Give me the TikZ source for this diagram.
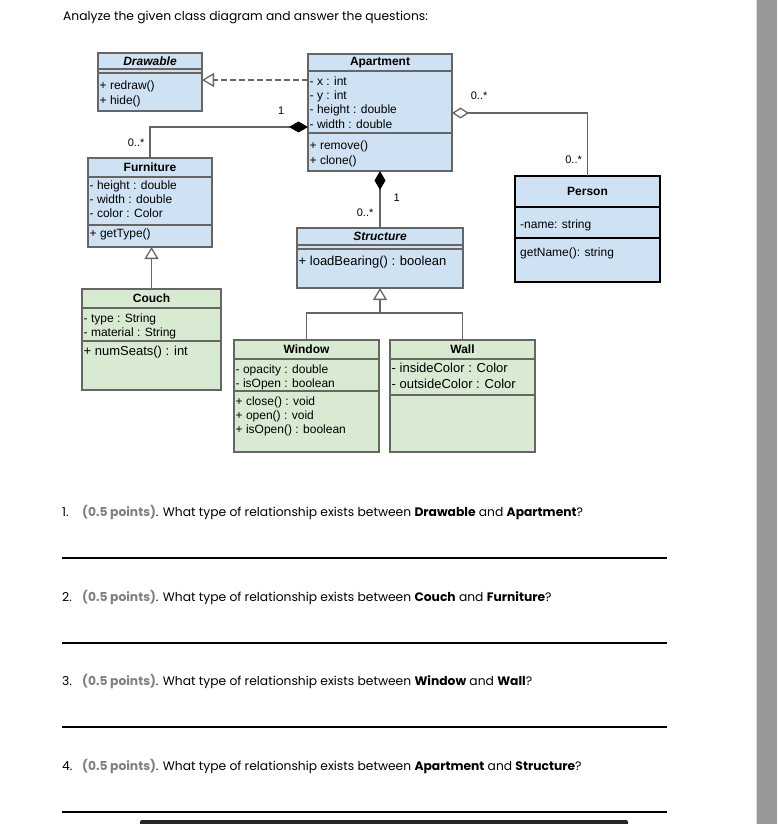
\documentclass[tikz,border=0pt]{standalone}
\usepackage{fontspec}
\setmainfont{Liberation Sans}
\newfontfamily\quizfont{Poppins}
\usetikzlibrary{arrows.meta,positioning}

\definecolor{umlblue}{HTML}{CFE2F3}
\definecolor{umlgreen}{HTML}{D9EAD3}
\definecolor{umlline}{HTML}{666666}
\definecolor{pointsgray}{HTML}{7F7F7F}
\definecolor{scrollgray}{HTML}{989898}

\tikzset{
  part/.style={draw=umlline, line width=1.3pt, fill=#1, inner sep=0pt, outer sep=0pt, anchor=north},
  head/.style={part=#1, font=\fontsize{12}{14}\selectfont\bfseries},
  members/.style={anchor=north west, align=left, inner xsep=1.5pt, inner ysep=5.5pt, font=\fontsize{12}{14.3}\selectfont},
  bigmembers/.style={members, font=\fontsize{13}{15.5}\selectfont},
  mult/.style={font=\fontsize{11}{13}\selectfont, inner sep=3pt},
  compose/.style={draw=umlline, line width=1.3pt, {Diamond[length=19pt, width=11pt, color=black]}-},
  aggregate/.style={draw=umlline, line width=1.3pt, {Diamond[length=17pt, width=11pt, fill=white]}-},
  inherit/.style={draw=umlline, line width=1.3pt, -{Triangle[length=12pt, width=14pt, fill=white]}},
  realize/.style={inherit, dash pattern=on 6pt off 3pt},
  question/.style={anchor=west, inner sep=0pt, font=\quizfont\fontsize{12.3}{14}\selectfont},
  answer/.style={line width=1.2pt}
}

\begin{document}
\begin{tikzpicture}[x=1pt, y=-1pt]
\useasboundingbox (0,0) rectangle (777,824);

\node[question] (intro) at (63,17) {Analyze the given class diagram and answer the questions:};

% Drawable
\node[head=umlblue, minimum width=104pt, minimum height=16pt] (drwT) at (150,53) {\itshape Drawable};
\node[part=umlblue, minimum width=104pt, minimum height=4pt, below=0pt of drwT] (drwA) {};
\node[part=umlblue, minimum width=104pt, minimum height=38pt, below=0pt of drwA,
  label={[members, inner ysep=8pt]north west:{+ redraw()\\+ hide()}}] (drwM) {};

% Apartment
\node[head=umlblue, minimum width=144pt, minimum height=17pt] (aptT) at (380,54) {Apartment};
\node[part=umlblue, minimum width=144pt, minimum height=62pt, below=0pt of aptT,
  label={[members]north west:{- x : int\\- y : int\\- height : double\\- width : double}}] (aptA) {};
\node[part=umlblue, minimum width=144pt, minimum height=38pt, below=0pt of aptA,
  label={[members, inner ysep=8pt]north west:{+ remove()\\+ clone()}}] (aptM) {};

% Furniture
\node[head=umlblue, minimum width=124pt, minimum height=19pt] (furT) at (150,158) {Furniture};
\node[part=umlblue, minimum width=124pt, minimum height=48pt, below=0pt of furT,
  label={[members, inner ysep=3.5pt]north west:{- height : double\\- width : double\\- color : Color}}] (furA) {};
\node[part=umlblue, minimum width=124pt, minimum height=22pt, below=0pt of furA,
  label={[members, inner ysep=3.5pt]north west:{+ getType()}}] (furM) {};

% Couch
\node[head=umlgreen, minimum width=139pt, minimum height=19pt] (couT) at (151.5,289) {Couch};
\node[part=umlgreen, minimum width=139pt, minimum height=33pt, below=0pt of couT,
  label={[members]north west:{- type : String\\- material : String}}] (couA) {};
\node[part=umlgreen, minimum width=139pt, minimum height=49pt, below=0pt of couA,
  label={[bigmembers, inner ysep=4.5pt]north west:{+ numSeats() : int}}] (couM) {};

% Structure
\node[head=umlblue, minimum width=166pt, minimum height=17pt] (strT) at (380,228) {\itshape Structure};
\node[part=umlblue, minimum width=166pt, minimum height=4pt, below=0pt of strT] (strA) {};
\node[part=umlblue, minimum width=166pt, minimum height=39pt, below=0pt of strA,
  label={[bigmembers, inner ysep=7pt]north west:{+ loadBearing() : boolean}}] (strM) {};

% Window
\node[head=umlgreen, minimum width=145pt, minimum height=19pt] (winT) at (306.5,340) {Window};
\node[part=umlgreen, minimum width=145pt, minimum height=32pt, below=0pt of winT,
  label={[members]north west:{- opacity : double\\- isOpen : boolean}}] (winA) {};
\node[part=umlgreen, minimum width=145pt, minimum height=61pt, below=0pt of winA,
  label={[members]north west:{+ close() : void\\+ open() : void\\+ isOpen() : boolean}}] (winM) {};

% Wall
\node[head=umlgreen, minimum width=145pt, minimum height=19pt] (walT) at (462.5,340) {Wall};
\node[part=umlgreen, minimum width=145pt, minimum height=36pt, below=0pt of walT,
  label={[bigmembers, inner ysep=4pt]north west:{- insideColor : Color\\- outsideColor : Color}}] (walA) {};
\node[part=umlgreen, minimum width=145pt, minimum height=57pt, below=0pt of walA] (walM) {};

% Person
\node[head=umlblue, draw=black, line width=1.6pt, minimum width=145pt, minimum height=31pt] (prsT) at (587.5,176) {Person};
\node[part=umlblue, draw=black, line width=1.6pt, minimum width=145pt, minimum height=31pt, below=0pt of prsT,
  label={[members, anchor=west, inner xsep=5pt, yshift=-3pt]west:{-name: string}}] (prsA) {};
\node[part=umlblue, draw=black, line width=1.6pt, minimum width=145pt, minimum height=44pt, below=0pt of prsA,
  label={[members, inner xsep=5pt, inner ysep=10pt]north west:{getName(): string}}] (prsM) {};

% relations
\coordinate (aptDrw) at ([yshift=-9pt]aptA.north west);
\draw[realize] (aptDrw) -- (aptDrw -| drwM.east);

\coordinate (aptFur) at ([yshift=6pt]aptA.south west);
\draw[compose] (aptFur) -- node[mult, above=9pt, pos=0.17] (m1) {1} (aptFur -| furT.north)
  -- node[mult, left=2pt, pos=0.52] (m2) {0..*} (furT.north);

\draw[compose] (aptM.south) -- node[mult, right=10pt, pos=0.46] (m3) {1}
  node[mult, left=3pt, pos=0.74] (m4) {0..*} (strT.north);

\coordinate (aptPrs) at ([yshift=20pt]aptA.south east);
\draw[aggregate] (aptPrs) -| node[mult, above=10pt, pos=0.1] (m5) {0..*}
  node[mult, left=2pt, pos=0.87] (m6) {0..*} (prsT.north);

\draw[inherit] (couT.north) -- (couT.north |- furM.south);

\coordinate (strFork) at ([yshift=-25pt]strM.south);
\draw[inherit] (strFork) -- (strM.south);
\draw[umlline, line width=1.3pt] (winT.north) |- (strFork) -| (walT.north);

% questions
\foreach \n/\yq/\a/\b in {1/513/Drawable/Apartment, 2/598/Couch/Furniture, 3/682/Window/Wall, 4/767/Apartment/Structure}{
  \node[question] (q\n) at (62,\yq) {\makebox[20pt][l]{\n.}\textcolor{pointsgray}{\bfseries(0.5 points)}. What type of relationship exists between \textbf{\a} and \textbf{\b}?};
  \draw[answer] (62,\yq+45) -- (667,\yq+45);
}

% page edges
\fill[scrollgray] (757,0) rectangle (777,824);
\draw[white!75!gray] (756.5,0) -- (756.5,824);
\fill[black!85, rounded corners=2pt] (140,820) rectangle (628,828);
\end{tikzpicture}
\end{document}
